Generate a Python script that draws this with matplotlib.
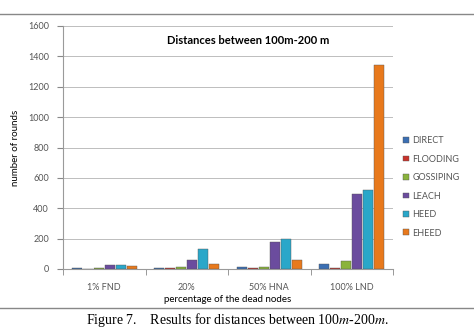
import numpy as np
from matplotlib import pyplot as plt
from matplotlib.lines import Line2D

groups = ['1% FND', '20%', '50% HNA', '100% LND']
protocols = ['DIRECT', 'FLOODING', 'GOSSIPING', 'LEACH', 'HEED', 'EHEED']
direct = [5, 8, 15, 33]
flooding = [3, 4, 5, 5]
gossiping = [5, 10, 15, 53]
leach = [25, 60, 178, 495]
heed = [25, 132, 197, 520]
eheed = [18, 33, 59, 1345]
colors = ['#3b6fb3', '#c8332c', '#8ab33c', '#6b4c9e', '#2aa7c9', '#e8791c']

def main():
    plt.rcParams['font.family'] = ['Lato', 'DejaVu Sans']
    fig = plt.figure(figsize=(4.74, 3.34), dpi=100)
    ax = fig.add_axes([63/474, 1 - 269/334, 330/474, 243/334])

    series = [direct, flooding, gossiping, leach, heed, eheed]
    x = np.arange(len(groups))
    w = 0.8 / len(series)
    for i, (vals, name, c) in enumerate(zip(series, protocols, colors)):
        pos = x - 0.4 + w * (i + 0.5)
        ax.bar(pos, vals, width=w * 0.92, color=c, label=name,
               edgecolor='#555555', linewidth=0.3, zorder=3)

    ax.set_xlim(-0.5, 3.5)
    ax.set_ylim(0, 1600)
    ax.set_yticks(range(0, 1601, 200))
    ax.set_xticks(x)
    ax.set_xticklabels(groups)
    ax.set_xticks(np.arange(-0.5, 3.6, 1), minor=True)
    ax.tick_params(axis='x', which='major', length=0, labelsize=6.5,
                   colors='#555555', pad=10)
    ax.tick_params(axis='x', which='minor', length=4, color='#888888')
    ax.tick_params(axis='y', labelsize=6.5, colors='#555555', length=4,
                   color='#888888', pad=6)
    ax.grid(axis='y', color='#bdbdbd', linewidth=0.7, zorder=0)
    for s in ['top', 'right']:
        ax.spines[s].set_visible(False)
    ax.spines['left'].set_color('#9a9a9a')
    ax.spines['bottom'].set_color('#9a9a9a')

    ax.set_ylabel('number of rounds', fontsize=7, labelpad=6)
    ax.set_xlabel('percentage of the dead nodes', fontsize=7, labelpad=2)
    ax.text(0.56, 0.94, 'Distances between 100m-200 m', transform=ax.transAxes,
            ha='center', va='center', fontsize=8, fontweight='bold')

    fig.legend(loc='upper left', bbox_to_anchor=(395/474, 1 - 128/334),
               frameon=False, fontsize=6.5, handlelength=0.6, handleheight=0.6,
               handletextpad=0.4, labelspacing=1.05, labelcolor='#555555')

    fig.add_artist(Line2D([0, 1], [1 - 14/334, 1 - 14/334], color='#888888', linewidth=1))
    fig.add_artist(Line2D([0, 1], [1 - 308/334, 1 - 308/334], color='#888888', linewidth=1))
    fig.text(0.5, 1 - 320/334, r'Figure 7.    Results for distances between 100$m$-200$m$.',
             ha='center', va='center', fontsize=10, family='Liberation Serif',
             math_fontfamily='stix')

    fig.savefig('out.png', dpi=100)


if __name__ == '__main__':
    main()
